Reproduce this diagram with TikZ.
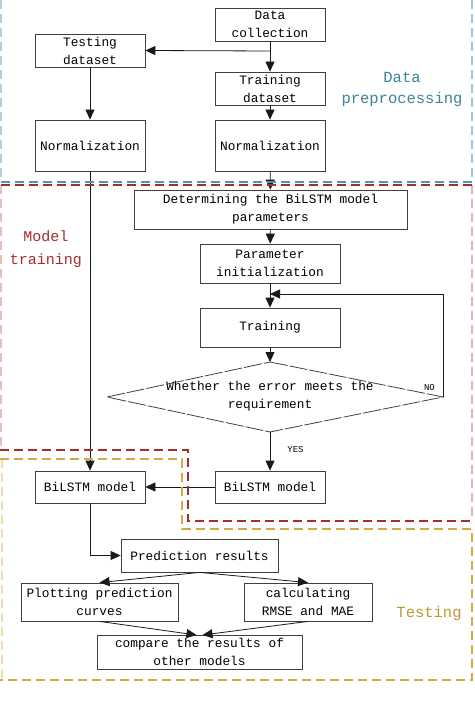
\documentclass[tikz,border=0pt]{standalone}
\usepackage{fontspec}
\setmainfont{Liberation Mono}
\usepackage{xcolor}
\usepackage{tikz}
\usetikzlibrary{arrows.meta}

\definecolor{preblue}{RGB}{70,155,180}
\definecolor{trainred}{RGB}{165,45,45}
\definecolor{testgold}{RGB}{212,170,60}

\tikzset{
	stepbox/.style={draw=black!75, line width=0.8pt, inner sep=0pt, align=center,
		font=\fontsize{12.8}{18}\selectfont, text=black},
	region/.style={line width=1.6pt, dash pattern=on 9pt off 5pt},
	tag/.style={font=\fontsize{9}{10}\selectfont, text=black, inner sep=1pt}
}

\begin{document}
\begin{tikzpicture}[x=1pt,y=-1pt,>={Triangle[length=10pt,width=9pt]}]
		\useasboundingbox (0,0) rectangle (474,711);
		%
		\node[stepbox, minimum width=110pt, minimum height=33pt] (coll) at (270,24.5) {Data\\collection};
		\node[stepbox, minimum width=110pt, minimum height=33pt] (testset) at (90,50.5) {Testing\\dataset};
		\node[stepbox, minimum width=110pt, minimum height=33pt] (trainset) at (270,88.5) {Training\\dataset};
		\node[stepbox, minimum width=110pt, minimum height=51pt] (normL) at (90,145.5) {Normalization};
		\node[stepbox, minimum width=110pt, minimum height=51pt] (normR) at (270,145.5) {Normalization};
		\node[stepbox, minimum width=273pt, minimum height=39pt] (det) at (270.5,209.5) {Determining the BiLSTM model\\parameters};
		\node[stepbox, minimum width=140pt, minimum height=39pt] (init) at (270,263.5) {Parameter\\initialization};
		\node[stepbox, minimum width=140pt, minimum height=39pt] (trn) at (270,327.5) {Training};
		\node[stepbox, draw=none] (judge) at (270,396) {Whether the error meets the\\requirement};
		\node[stepbox, minimum width=110pt, minimum height=32pt] (bilL) at (90,487) {BiLSTM model};
		\node[stepbox, minimum width=110pt, minimum height=32pt] (bilR) at (270,487) {BiLSTM model};
		\node[stepbox, minimum width=157pt, minimum height=33pt] (pred) at (199.5,555.5) {Prediction results};
		\node[stepbox, minimum width=157pt, minimum height=38pt] (plot) at (99.5,602) {Plotting prediction\\curves};
		\node[stepbox, minimum width=128pt, minimum height=38pt] (calc) at (308,602) {calculating\\RMSE and MAE};
		\node[stepbox, minimum width=205pt, minimum height=34pt] (comp) at (199.5,652) {compare the results of\\other models};
		%
		\coordinate (dT) at (270,362);
		\coordinate (dR) at (443,397);
		\coordinate (dB) at (270,432);
		\coordinate (dL) at (107,397);
		\coordinate (split) at (270,51);
		\coordinate (loopIn) at (270,294);
		\coordinate (compL) at (196.5,635);
		\coordinate (compR) at (202.5,635);
		\draw[black!75, line width=0.8pt, dash pattern=on 18pt off 2pt] (dT) -- (dR) -- (dB) -- (dL) -- cycle;
		%
		\path[->, black!90, line width=0.8pt]
			(coll) edge (trainset)
			(split) edge (testset.east)
			(testset) edge (normL)
			(trainset) edge (normR)
			(normR) edge (det)
			(normL) edge (bilL)
			(det) edge (init)
			(init) edge (trn)
			(trn) edge (dT)
			(dB) edge node[tag, right=16pt, pos=0.45] {YES} (bilR)
			(bilR) edge (bilL)
			(pred.south) edge (plot.north)
			(pred.south) edge (calc.north)
			(plot.south) edge (compL)
			(calc.south) edge (compR);
		\draw[->, black!90, line width=0.8pt] (dR) -- (dR |- loopIn) -- (loopIn);
		\draw[->, black!90, line width=0.8pt] (bilL) |- (pred);
		\node[tag, left=7pt] (no) at (dR |- 0,388) {NO};
		%
		\draw[region, preblue!45] (1,0) -- (1,182);
		\draw[region, preblue!55] (472,0) -- (472,182);
		\draw[region, preblue] (1,182) -- (472,182);
		\draw[region, trainred!30] (1,185) -- (1,450);
		\draw[region, trainred!35] (472,185) -- (472,521);
		\draw[region, trainred] (1,185) -- (472,185);
		\draw[region, trainred] (0,450) -- (188,450) -- (188,521) -- (472,521);
		\draw[region, testgold!40] (2,459) -- (2,680);
		\draw[region, testgold] (0,459) -- (182,459) -- (182,529) -- (472,529) -- (472,680) -- (0,680);
		%
		\node[font=\fontsize{15.5}{21}\selectfont, text=preblue!85!black, align=center] (lblpre) at (402,89) {Data\\preprocessing};
		\node[font=\fontsize{15}{23}\selectfont, text=trainred, align=center] (lbltrain) at (46,249) {Model\\training};
		\node[font=\fontsize{15.5}{21}\selectfont, text=testgold!90!black] (lbltest) at (429,613) {Testing};
	\end{tikzpicture}
\end{document}
